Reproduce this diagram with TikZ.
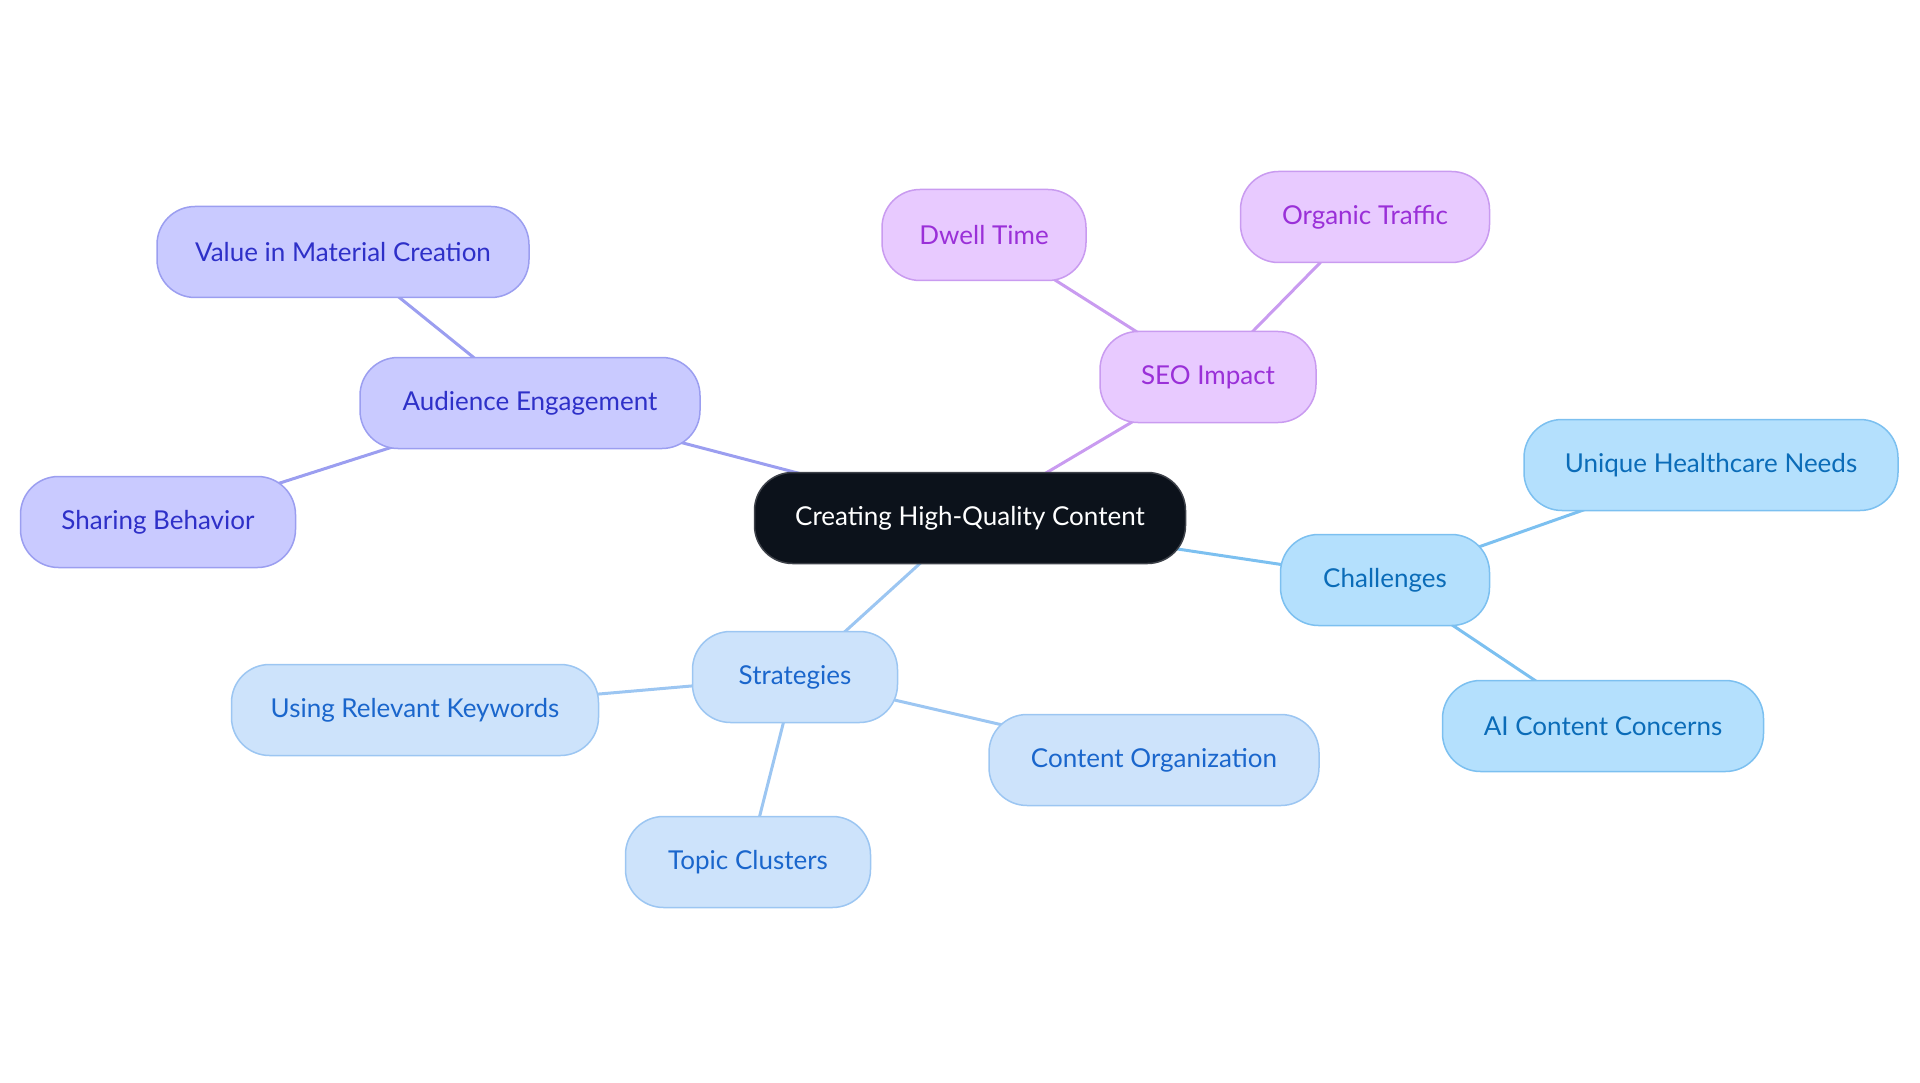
\documentclass[tikz,border=0pt]{standalone}
\usepackage{fontspec}
\setmainfont{Lato}
\usetikzlibrary{backgrounds}

\definecolor{rootfill}{HTML}{0C121B}
\definecolor{audfill}{HTML}{C9CAFF}
\definecolor{audline}{HTML}{9B9EF0}
\definecolor{audtext}{HTML}{2E30C8}
\definecolor{seofill}{HTML}{E8CAFF}
\definecolor{seoline}{HTML}{C99BF0}
\definecolor{seotext}{HTML}{9A30D8}
\definecolor{chalfill}{HTML}{B4E0FD}
\definecolor{challine}{HTML}{7CC0F0}
\definecolor{chaltext}{HTML}{0B6CB8}
\definecolor{stratfill}{HTML}{CDE3FB}
\definecolor{stratline}{HTML}{9CC6F2}
\definecolor{strattext}{HTML}{1A66CC}

\tikzset{
  idea/.style={rounded corners=38pt, minimum height=91pt, inner xsep=0pt,
    line width=1.5pt, font=\fontsize{26}{30}\selectfont},
  root/.style={idea, fill=rootfill, draw=rootfill!80!white, text=white},
  aud/.style={idea, fill=audfill, draw=audline, text=audtext},
  seo/.style={idea, fill=seofill, draw=seoline, text=seotext},
  chal/.style={idea, fill=chalfill, draw=challine, text=chaltext},
  strat/.style={idea, fill=stratfill, draw=stratline, text=strattext},
  link/.style={line width=3pt}
}

\begin{document}
\begin{tikzpicture}[x=1pt, y=-1pt]
    \useasboundingbox (0, 0) rectangle (1920, 1083);

    % Root
    \node[root, minimum width=431pt] (content) at (970, 518) {Creating High-Quality Content};

    % Audience
    \node[aud, minimum width=340pt] (audience) at (530, 403) {Audience Engagement};
    \node[aud, minimum width=372pt] (value) at (343, 252) {Value in Material Creation};
    \node[aud, minimum width=275pt] (sharing) at (158, 522) {Sharing Behavior};

    % SEO
    \node[seo, minimum width=216pt] (seo) at (1208, 377) {SEO Impact};
    \node[seo, minimum width=204pt] (dwell) at (984, 235) {Dwell Time};
    \node[seo, minimum width=249pt] (organic) at (1365, 217) {Organic Traffic};

    % Challenges
    \node[chal, minimum width=209pt] (challenges) at (1385, 580) {Challenges};
    \node[chal, minimum width=374pt] (healthcare) at (1711, 465) {Unique Healthcare Needs};
    \node[chal, minimum width=321pt] (aiconcerns) at (1603, 726) {AI Content Concerns};

    % Strategies
    \node[strat, minimum width=205pt] (strategies) at (795, 677) {Strategies};
    \node[strat, minimum width=367pt] (keywords) at (415, 710) {Using Relevant Keywords};
    \node[strat, minimum width=330pt] (organization) at (1154, 760) {Content Organization};
    \node[strat, minimum width=245pt] (clusters) at (748, 862) {Topic Clusters};

    % Links, behind the nodes
    \begin{scope}[on background layer={link}]
      \draw[audline] (content.center) -- (audience.center);
      \draw[audline] (audience.center) -- (value.center);
      \draw[audline] (audience.center) -- (sharing.center);
      \draw[seoline] (content.center) -- (seo.center);
      \draw[seoline] (seo.center) -- (dwell.center);
      \draw[seoline] (seo.center) -- (organic.center);
      \draw[challine] (content.center) -- (challenges.center);
      \draw[challine] (challenges.center) -- (healthcare.center);
      \draw[challine] (challenges.center) -- (aiconcerns.center);
      \draw[stratline] (content.center) -- (strategies.center);
      \draw[stratline] (strategies.center) -- (keywords.center);
      \draw[stratline] (strategies.center) -- (organization.center);
      \draw[stratline] (strategies.center) -- (clusters.center);
    \end{scope}
  \end{tikzpicture}
\end{document}
